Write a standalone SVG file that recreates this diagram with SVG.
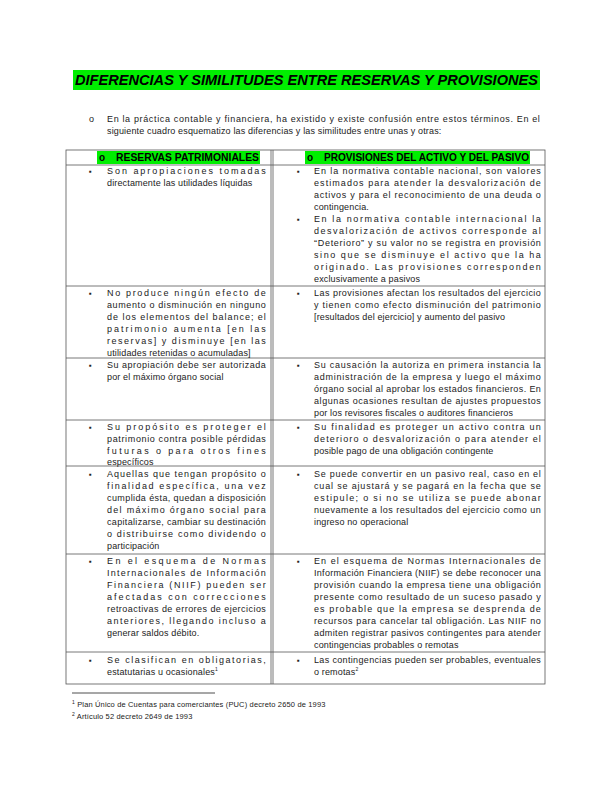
<svg xmlns="http://www.w3.org/2000/svg" width="612" height="792" viewBox="0 0 612 792">
<style>
text{font-family:"Liberation Sans",Arial,sans-serif;font-size:9px;fill:#222;letter-spacing:0.15px}
.t{font-size:15.5px;font-weight:bold;font-style:italic;fill:#000;letter-spacing:0}
.h{font-size:10px;font-weight:bold;fill:#000;letter-spacing:0}
.f{font-size:7.5px}
.b{font-size:8px}
.g{fill:#00ee00}
.ln{stroke:#555;stroke-width:0.8;fill:none}
</style>
<rect width="612" height="792" fill="#fff"/>
<g id="title"><rect class="g" x="73" y="70" width="467" height="20"/>
<text class="t" x="75" y="85" textLength="463" lengthAdjust="spacingAndGlyphs">DIFERENCIAS Y SIMILITUDES ENTRE RESERVAS Y PROVISIONES</text></g>
<g id="intro"><text x="89" y="122">o</text>
<text x="107" y="122" textLength="433" lengthAdjust="spacing">En la práctica contable y financiera, ha existido y existe confusión entre estos términos. En el</text>
<text x="107" y="134">siguiente cuadro esquematizo las diferencias y las similitudes entre unas y otras:</text></g>
<g id="table">
<rect class="ln" x="66" y="150" width="479" height="534"/>
<line class="ln" x1="271" y1="150" x2="271" y2="684"/><line class="ln" x1="273" y1="150" x2="273" y2="684"/>
<g class="ln"><line x1="66" y1="165" x2="545" y2="165"/><line x1="66" y1="286" x2="545" y2="286"/><line x1="66" y1="358" x2="545" y2="358"/><line x1="66" y1="420" x2="545" y2="420"/><line x1="66" y1="466" x2="545" y2="466"/><line x1="66" y1="554" x2="545" y2="554"/><line x1="66" y1="652" x2="545" y2="652"/></g>
<rect class="g" x="97" y="151" width="163" height="13"/><rect class="g" x="305" y="151" width="225" height="13"/>
<text class="h" x="99" y="161" font-weight="normal">o</text>
<text class="h" x="116" y="161" textLength="143" lengthAdjust="spacingAndGlyphs">RESERVAS PATRIMONIALES</text>
<text class="h" x="307" y="161" font-weight="normal">o</text>
<text class="h" x="324" y="161" textLength="205" lengthAdjust="spacingAndGlyphs">PROVISIONES DEL ACTIVO Y DEL PASIVO</text>
</g>
<g id="left">
<text class="b" x="89" y="174">▪</text>
<text x="107" y="174" textLength="159" lengthAdjust="spacing">Son apropiaciones tomadas</text>
<text x="107" y="186">directamente las utilidades líquidas</text>
<text class="b" x="89" y="296">▪</text>
<text x="107" y="296" textLength="159" lengthAdjust="spacing">No produce ningún efecto de</text>
<text x="107" y="308" textLength="159" lengthAdjust="spacing">aumento o disminución en ninguno</text>
<text x="107" y="320" textLength="159" lengthAdjust="spacing">de los elementos del balance; el</text>
<text x="107" y="332" textLength="159" lengthAdjust="spacing">patrimonio aumenta [en las</text>
<text x="107" y="344" textLength="159" lengthAdjust="spacing">reservas] y disminuye [en las</text>
<text x="107" y="356">utilidades retenidas o acumuladas]</text>
<text class="b" x="89" y="368">▪</text>
<text x="107" y="368" textLength="159" lengthAdjust="spacing">Su apropiación debe ser autorizada</text>
<text x="107" y="380">por el máximo órgano social</text>
<text class="b" x="89" y="430">▪</text>
<text x="107" y="430" textLength="159" lengthAdjust="spacing">Su propósito es proteger el</text>
<text x="107" y="442" textLength="159" lengthAdjust="spacing">patrimonio contra posible pérdidas</text>
<text x="107" y="454" textLength="159" lengthAdjust="spacing">futuras o para otros fines</text>
<text x="107" y="465">específicos</text>
<text class="b" x="89" y="477">▪</text>
<text x="107" y="477" textLength="159" lengthAdjust="spacing">Aquellas que tengan propósito o</text>
<text x="107" y="489" textLength="159" lengthAdjust="spacing">finalidad específica, una vez</text>
<text x="107" y="501" textLength="159" lengthAdjust="spacing">cumplida ésta, quedan a disposición</text>
<text x="107" y="513" textLength="159" lengthAdjust="spacing">del máximo órgano social para</text>
<text x="107" y="525" textLength="159" lengthAdjust="spacing">capitalizarse, cambiar su destinación</text>
<text x="107" y="537" textLength="159" lengthAdjust="spacing">o distribuirse como dividendo o</text>
<text x="107" y="549">participación</text>
<text class="b" x="89" y="564">▪</text>
<text x="107" y="564" textLength="159" lengthAdjust="spacing">En el esquema de Normas</text>
<text x="107" y="576" textLength="159" lengthAdjust="spacing">Internacionales de Información</text>
<text x="107" y="588" textLength="159" lengthAdjust="spacing">Financiera (NIIF) pueden ser</text>
<text x="107" y="600" textLength="159" lengthAdjust="spacing">afectadas con correcciones</text>
<text x="107" y="612" textLength="159" lengthAdjust="spacing">retroactivas de errores de ejercicios</text>
<text x="107" y="624" textLength="159" lengthAdjust="spacing">anteriores, llegando incluso a</text>
<text x="107" y="636">generar saldos débito.</text>
<text class="b" x="89" y="663">▪</text>
<text x="107" y="663" textLength="159" lengthAdjust="spacing">Se clasifican en obligatorias,</text>
<text x="107" y="675">estatutarias u ocasionales<tspan font-size="5" dy="-4">1</tspan></text>
</g>
<g id="right">
<text class="b" x="297" y="174">▪</text>
<text x="314" y="174" textLength="227" lengthAdjust="spacing">En la normativa contable nacional, son valores</text>
<text x="314" y="186" textLength="227" lengthAdjust="spacing">estimados para atender la desvalorización de</text>
<text x="314" y="198" textLength="227" lengthAdjust="spacing">activos y para el reconocimiento de una deuda o</text>
<text x="314" y="210">contingencia.</text>
<text class="b" x="297" y="222">▪</text>
<text x="314" y="222" textLength="227" lengthAdjust="spacing">En la normativa contable internacional la</text>
<text x="314" y="234" textLength="227" lengthAdjust="spacing">desvalorización de activos corresponde al</text>
<text x="314" y="246" textLength="227" lengthAdjust="spacing">“Deterioro” y su valor no se registra en provisión</text>
<text x="314" y="258" textLength="227" lengthAdjust="spacing">sino que se disminuye el activo que la ha</text>
<text x="314" y="270" textLength="227" lengthAdjust="spacing">originado. Las provisiones corresponden</text>
<text x="314" y="282">exclusivamente a pasivos</text>
<text class="b" x="297" y="296">▪</text>
<text x="314" y="296" textLength="227" lengthAdjust="spacing">Las provisiones afectan los resultados del ejercicio</text>
<text x="314" y="308" textLength="227" lengthAdjust="spacing">y tienen como efecto disminución del patrimonio</text>
<text x="314" y="320">[resultados del ejercicio] y aumento del pasivo</text>
<text class="b" x="297" y="368">▪</text>
<text x="314" y="368" textLength="227" lengthAdjust="spacing">Su causación la autoriza en primera instancia la</text>
<text x="314" y="380" textLength="227" lengthAdjust="spacing">administración de la empresa y luego el máximo</text>
<text x="314" y="392" textLength="227" lengthAdjust="spacing">órgano social al aprobar los estados financieros. En</text>
<text x="314" y="404" textLength="227" lengthAdjust="spacing">algunas ocasiones resultan de ajustes propuestos</text>
<text x="314" y="416">por los revisores fiscales o auditores financieros</text>
<text class="b" x="297" y="430">▪</text>
<text x="314" y="430" textLength="227" lengthAdjust="spacing">Su finalidad es proteger un activo contra un</text>
<text x="314" y="442" textLength="227" lengthAdjust="spacing">deterioro o desvalorización o para atender el</text>
<text x="314" y="454">posible pago de una obligación contingente</text>
<text class="b" x="297" y="477">▪</text>
<text x="314" y="477" textLength="227" lengthAdjust="spacing">Se puede convertir en un pasivo real, caso en el</text>
<text x="314" y="489" textLength="227" lengthAdjust="spacing">cual se ajustará y se pagará en la fecha que se</text>
<text x="314" y="501" textLength="227" lengthAdjust="spacing">estipule; o si no se utiliza se puede abonar</text>
<text x="314" y="513" textLength="227" lengthAdjust="spacing">nuevamente a los resultados del ejercicio como un</text>
<text x="314" y="525">ingreso no operacional</text>
<text class="b" x="297" y="564">▪</text>
<text x="314" y="564" textLength="227" lengthAdjust="spacing">En el esquema de Normas Internacionales de</text>
<text x="314" y="576" textLength="227" lengthAdjust="spacing">Información Financiera (NIIF) se debe reconocer una</text>
<text x="314" y="588" textLength="227" lengthAdjust="spacing">provisión cuando la empresa tiene una obligación</text>
<text x="314" y="600" textLength="227" lengthAdjust="spacing">presente como resultado de un suceso pasado y</text>
<text x="314" y="612" textLength="227" lengthAdjust="spacing">es probable que la empresa se desprenda de</text>
<text x="314" y="624" textLength="227" lengthAdjust="spacing">recursos para cancelar tal obligación. Las NIIF no</text>
<text x="314" y="636" textLength="227" lengthAdjust="spacing">admiten registrar pasivos contingentes para atender</text>
<text x="314" y="648">contingencias probables o remotas</text>
<text class="b" x="297" y="663">▪</text>
<text x="314" y="663" textLength="227" lengthAdjust="spacing">Las contingencias pueden ser probables, eventuales</text>
<text x="314" y="675">o remotas<tspan font-size="5" dy="-4">2</tspan></text>
</g>
<g id="footnotes">
<line x1="72" y1="693" x2="215" y2="693" stroke="#222" stroke-width="0.8"/>
<text class="f" x="72" y="707"><tspan font-size="5" dy="-3">1</tspan><tspan dy="3"> Plan Único de Cuentas para comerciantes (PUC) decreto 2650 de 1993</tspan></text>
<text class="f" x="72" y="719"><tspan font-size="5" dy="-3">2</tspan><tspan dy="3"> Artículo 52 decreto 2649 de 1993</tspan></text>
</g>
</svg>
